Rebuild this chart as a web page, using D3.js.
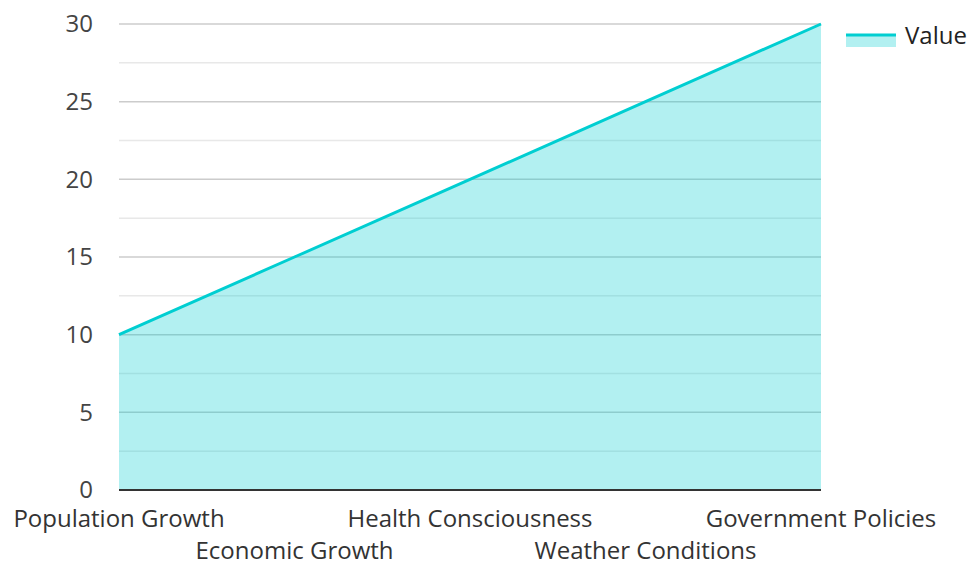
<!DOCTYPE html>
<html><head><meta charset="utf-8">
<script src="https://cdn.jsdelivr.net/npm/d3@7"></script>
<style>body{margin:0;background:#fff;font-family:"Open Sans",sans-serif;}</style>
</head><body><svg id="c" width="971" height="562"></svg>
<script>
const categories = ["Population Growth","Economic Growth","Health Consciousness","Weather Conditions","Government Policies"];
const values = [10,15,20,25,30];
const yTicks = [0,5,10,15,20,25,30];
const seriesName = "Value";

const svg = d3.select("#c");
const m = {l:119, r:150, t:24, b:72};
const W = 971, H = 562;
const x = d3.scalePoint().domain(categories).range([m.l, W - m.r]);
const y = d3.scaleLinear().domain([0,30]).range([H - m.b, m.t]);
const color = "#00CED1";

// minor grid
const minor = d3.range(2.5, 30, 5);
svg.append("g").selectAll("line").data(minor).join("line")
  .attr("x1", m.l).attr("x2", W - m.r).attr("y1", d=>y(d)).attr("y2", d=>y(d))
  .attr("stroke", "#e8e8e8").attr("stroke-width", 1.5);
// major grid
svg.append("g").selectAll("line").data(yTicks.filter(d=>d>0)).join("line")
  .attr("x1", m.l).attr("x2", W - m.r).attr("y1", d=>y(d)).attr("y2", d=>y(d))
  .attr("stroke", "#cccccc").attr("stroke-width", 1.5);

const data = categories.map((c,i)=>({c, v:values[i]}));
svg.append("path").datum(data)
  .attr("d", d3.area().x(d=>x(d.c)).y0(y(0)).y1(d=>y(d.v)))
  .attr("fill", color).attr("fill-opacity", 0.3);
svg.append("path").datum(data)
  .attr("d", d3.line().x(d=>x(d.c)).y(d=>y(d.v)))
  .attr("fill", "none").attr("stroke", color).attr("stroke-width", 3);

// x axis line
svg.append("line").attr("x1", m.l).attr("x2", W - m.r).attr("y1", y(0)).attr("y2", y(0))
  .attr("stroke", "#333").attr("stroke-width", 2);

// y labels
svg.append("g").selectAll("text").data(yTicks).join("text")
  .attr("x", 93).attr("y", d=>y(d)).attr("dy", "0.35em")
  .attr("text-anchor", "end").attr("font-size", 24).attr("fill", "#444")
  .text(d=>d);

// x labels
svg.append("g").selectAll("text").data(categories).join("text")
  .attr("x", d=>x(d)).attr("y", (d,i)=> i%2===0 ? 527 : 559)
  .attr("text-anchor", "middle").attr("font-size", 24).attr("fill", "#333")
  .text(d=>d);

// legend
const lg = svg.append("g");
lg.append("rect").attr("x", 846).attr("y", 35).attr("width", 50).attr("height", 12)
  .attr("fill", color).attr("fill-opacity", 0.3);
lg.append("line").attr("x1", 846).attr("x2", 896).attr("y1", 35).attr("y2", 35)
  .attr("stroke", color).attr("stroke-width", 3);
lg.append("text").attr("x", 905).attr("y", 36).attr("dy", "0.35em")
  .attr("font-size", 24).attr("fill", "#222").text(seriesName);
</script></body></html>
